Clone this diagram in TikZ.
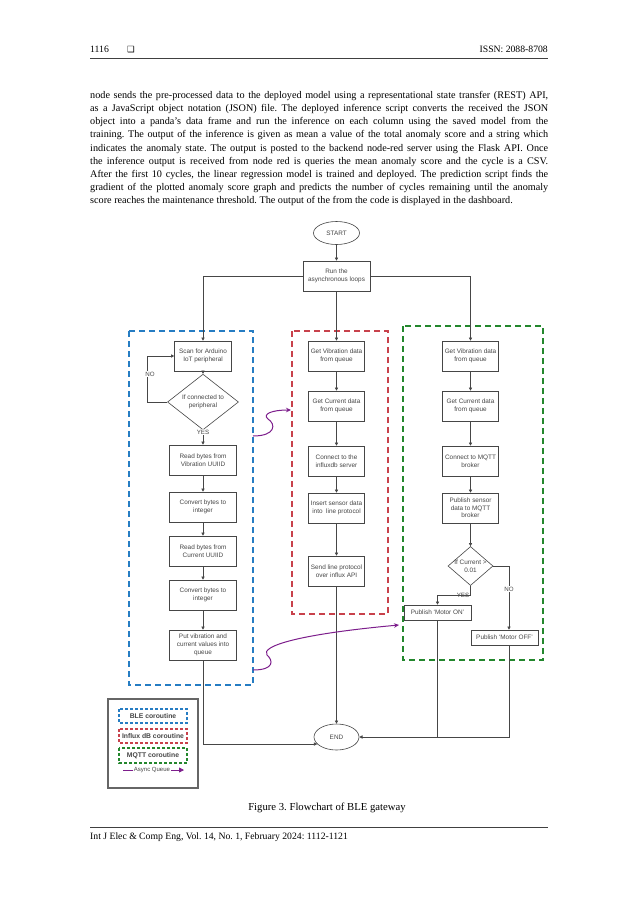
\documentclass[tikz,border=0pt]{standalone}
\usepackage{fontspec}
\setmainfont{Liberation Serif}
\setsansfont{Liberation Sans}
\newfontfamily\dejavu{DejaVu Sans}
\usetikzlibrary{arrows.meta,shapes.geometric}
\definecolor{blecol}{RGB}{38,125,195}
\definecolor{influxcol}{RGB}{200,65,75}
\definecolor{mqttcol}{RGB}{35,135,45}
\definecolor{queuecol}{RGB}{125,30,140}
\definecolor{inkgray}{RGB}{70,70,70}
\frenchspacing

\begin{document}
\begin{tikzpicture}[x=1pt,y=-1pt,
  proc/.style={draw=inkgray,line width=0.6pt,fill=white,inner sep=0pt,
    minimum width=56,minimum height=30,align=center,text=inkgray,
    font=\sffamily\fontsize{6.4}{7.7}\selectfont},
  term/.style={proc,ellipse,minimum width=46,minimum height=23},
  decide/.style={proc,diamond,minimum width=71,minimum height=40},
  flow/.style={draw=inkgray,line width=0.6pt},
  arr/.style={flow,-{Triangle[length=3.2pt,width=3.2pt]}},
  group/.style={line width=1.6pt,dash pattern=on 6pt off 4pt},
  legbox/.style={line width=1.1pt,dash pattern=on 3pt off 2pt},
  tag/.style={text=inkgray,font=\sffamily\fontsize{6.2}{7}\selectfont,inner sep=1pt},
  legend/.style={text=inkgray,font=\sffamily\bfseries\fontsize{6.8}{7.5}\selectfont,inner sep=0pt},
  queue/.style={draw=queuecol,line width=1pt,-{Stealth[length=5pt,width=4.5pt]}},
  page/.style={font=\fontsize{9.7}{11}\selectfont,inner sep=0pt}]

  \fill[white] (0,0) rectangle (638,902);
  \useasboundingbox (0,0) rectangle (638,902);

  % running head
  \node[page,anchor=base west] (pageno) at (90,52) {1116};
  \node[page,anchor=base west,font=\dejavu\fontsize{8.5}{9}\selectfont] (sqmark) at (127,52) {❑};
  \node[page,anchor=base east] (issn) at (548,52) {ISSN: 2088-8708};
  \draw[line width=0.8pt,black!75] (90,58.5) -- (548,58.5);

  % body paragraph
  \node[anchor=north west,inner sep=0pt,align=justify,text width=458pt,
        font=\fontsize{10.2}{13.2}\selectfont] (para) at (90,91) {%
    node sends the pre-processed data to the deployed model using a representational state transfer (REST) API,\linebreak
    as a JavaScript object notation (JSON) file. The deployed inference script converts the received the JSON\linebreak
    object into a panda’s data frame and run the inference on each column using the saved model from the\linebreak
    training. The output of the inference is given as mean a value of the total anomaly score and a string which\linebreak
    indicates the anomaly state. The output is posted to the backend node-red server using the Flask API. Once\linebreak
    the inference output is received from node red is queries the mean anomaly score and the cycle is a CSV.\linebreak
    After the first 10 cycles, the linear regression model is trained and deployed. The prediction script finds the\linebreak
    gradient of the plotted anomaly score graph and predicts the number of cycles remaining until the anomaly\linebreak
    score reaches the maintenance threshold. The output of the from the code is displayed in the dashboard.};

  % coroutine frames
  \draw[group,blecol] (129,331) rectangle (253,685);
  \draw[group,influxcol] (292,331) rectangle (388,614);
  \draw[group,mqttcol] (403,326) rectangle (543,660);

  % main nodes
  \node[term] (start) at (336.5,233) {START};
  \node[proc,minimum width=67] (run) at (336.5,276) {Run the\\asynchronous loops};
  \node[term,minimum width=45,minimum height=26] (end) at (336.5,737) {END};

  % BLE coroutine
  \node[proc,minimum width=57] (scan) at (203,356) {Scan for Arduino\\IoT peripheral};
  \node[decide] (conn) at (203,402) {If connected to\\peripheral};
  \node[proc,minimum width=67] (readvib) at (203,460) {Read bytes from\\Vibration UUIID};
  \node[proc,minimum width=67] (convvib) at (203,507) {Convert bytes to\\integer};
  \node[proc,minimum width=67] (readcur) at (203,551) {Read bytes from\\Current UUIID};
  \node[proc,minimum width=67] (convcur) at (203,595) {Convert bytes to\\integer};
  \node[proc,minimum width=67] (putq) at (203,645) {Put vibration and\\current values into\\queue};

  % influx coroutine
  \node[proc] (ivib) at (336.5,356) {Get Vibration data\\from queue};
  \node[proc] (icur) at (336.5,406) {Get Current data\\from queue};
  \node[proc] (iconn) at (336.5,461) {Connect to the\\influxdb server};
  \node[proc] (iins) at (336.5,508) {Insert sensor data\\into\ \ line protocol};
  \node[proc] (isend) at (336.5,571) {Send line protocol\\over influx API};

  % MQTT coroutine
  \node[proc] (mvib) at (470.5,356) {Get Vibration data\\from queue};
  \node[proc] (mcur) at (470.5,406) {Get Current data\\from queue};
  \node[proc] (mconn) at (470.5,461) {Connect to MQTT\\broker};
  \node[proc] (mpub) at (470.5,508) {Publish sensor\\data to MQTT\\broker};
  \node[decide,minimum width=45,minimum height=39] (thres) at (470.5,566)
    {\makebox[0pt]{If Current >}\\0.01};
  \node[proc,minimum width=67,minimum height=15] (motoron) at (437.5,612.5) {Publish `Motor ON'};
  \node[proc,minimum width=67,minimum height=15] (motoroff) at (504.5,637.5) {Publish `Motor OFF'};

  % connectors
  \draw[arr] (start) -- (run);
  \draw[arr] (run.west) -| (scan.north);
  \draw[arr] (run) -- (ivib);
  \draw[arr] (run.east) -| (mvib.north);

  \draw[arr] (scan) -- (conn);
  \draw[arr] (conn.west) -- ++(-20,0) |- (scan.west);
  \node[tag,fill=white] (nolbl) at (150,374) {NO};
  \draw[arr] (conn) -- (readvib);
  \node[tag,fill=white] (yeslbl) at (203,432) {YES};
  \draw[arr] (readvib) -- (convvib);
  \draw[arr] (convvib) -- (readcur);
  \draw[arr] (readcur) -- (convcur);
  \draw[arr] (convcur) -- (putq);
  \draw[arr] (putq.south) |- (end.200);

  \draw[arr] (ivib) -- (icur);
  \draw[arr] (icur) -- (iconn);
  \draw[arr] (iconn) -- (iins);
  \draw[arr] (iins) -- (isend);
  \draw[arr] (isend) -- (end);

  \draw[arr] (mvib) -- (mcur);
  \draw[arr] (mcur) -- (mconn);
  \draw[arr] (mconn) -- (mpub);
  \draw[arr] (mpub) -- (thres);
  \draw[arr] (thres.south) -- ++(0,9) -| (motoron.north);
  \node[tag] (yes2) at (463,595) {YES};
  \draw[arr] (thres.east) -| ([xshift=4.5pt]motoroff.north);
  \node[tag,fill=white] (no2) at (509,589) {NO};
  \draw[arr] ([xshift=4.5pt]motoroff.south) |- (end.east);
  \draw[flow] (motoron.south) -- (motoron.south |- end.east);

  % async queues
  \coordinate (q1from) at (253,436);
  \coordinate (q1to) at (291,410);
  \coordinate (q2from) at (253,670);
  \coordinate (q2to) at (399,625);
  \draw[queue] (q1from) .. controls (276,436) and (276,424) .. (268,419)
    .. controls (262,414) and (272,410) .. (q1to);
  \draw[queue] (q2from) .. controls (275,670) and (273,660) .. (267,655)
    .. controls (260,646) and (300,634) .. (q2to);

  % legend
  \draw[line width=1.5pt,black!60] (108,699) rectangle (198,788);
  \draw[legbox,blecol] (119,709) rectangle (187,723);
  \node[legend] (lble) at (153,716) {BLE coroutine};
  \draw[legbox,influxcol] (119,729) rectangle (187,743);
  \node[legend] (linflux) at (153,736) {Influx dB coroutine};
  \draw[legbox,mqttcol] (119,748) rectangle (187,763);
  \node[legend] (lmqtt) at (153,755.5) {MQTT coroutine};
  \coordinate (lqa) at (123,770);
  \coordinate (lqb) at (184,770);
  \draw[queue,line width=0.8pt,-{Triangle[length=5pt,width=5pt]}] (lqa) -- (lqb);
  \node[tag,fill=white,inner sep=0.5pt,font=\sffamily\fontsize{6}{7}\selectfont] (lqueue) at (152,770) {Async Queue};

  % caption and foot
  \node[font=\fontsize{10.7}{13}\selectfont,inner sep=0pt] (caption) at (327,808) {Figure 3. Flowchart of BLE gateway};
  \draw[line width=0.8pt,black!75] (90,827) -- (548,827);
  \node[page,anchor=base west] (foot) at (90,839) {Int J Elec \& Comp Eng, Vol. 14, No. 1, February 2024: 1112-1121};
\end{tikzpicture}
\end{document}
